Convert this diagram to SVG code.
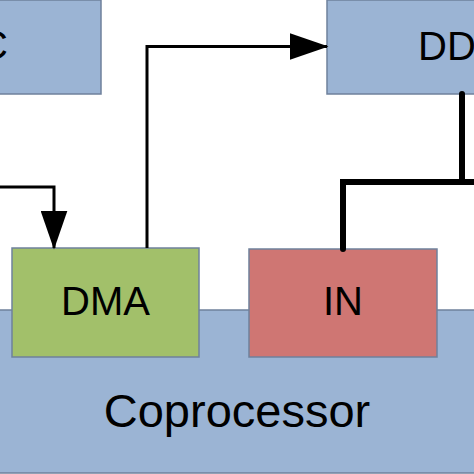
<svg xmlns="http://www.w3.org/2000/svg" width="474" height="474" viewBox="0 0 474 474">
<defs>
<style>
.box{stroke:#6f819c;stroke-width:1.5}
.blue{fill:#9bb4d4}
.green{fill:#a2c06a}
.red{fill:#cf7673}
.lbl{font-family:"Liberation Sans",Arial,sans-serif;fill:#000}
.thin{fill:none;stroke:#000;stroke-width:3}
.thick{fill:none;stroke:#000;stroke-width:6;stroke-linecap:round;stroke-linejoin:miter}
</style>
<marker id="arr" markerWidth="13" markerHeight="9" refX="12.5" refY="4.5" orient="auto" markerUnits="strokeWidth">
<path d="M0,0 L13,4.5 L0,9 Z" fill="#000"/>
</marker>
</defs>
<rect width="474" height="474" fill="#fff"/>
<g id="coprocessor">
<rect class="box blue" x="-5" y="310" width="484" height="163"/>
<text class="lbl" x="237" y="427" font-size="47" text-anchor="middle">Coprocessor</text>
</g>
<g id="ctrl">
<rect class="box blue" x="-5" y="0" width="106" height="94"/>
<text class="lbl" x="-21" y="59" font-size="40">C</text>
</g>
<g id="ddr">
<rect class="box blue" x="327" y="0" width="152" height="94"/>
<text class="lbl" x="418" y="60" font-size="40">DD</text>
</g>
<g id="dma">
<rect class="box green" x="12" y="248" width="187" height="109"/>
<text class="lbl" x="105.5" y="315" font-size="40" text-anchor="middle">DMA</text>
</g>
<g id="in">
<rect class="box red" x="249" y="249" width="188" height="108"/>
<text class="lbl" x="343" y="315" font-size="40" text-anchor="middle">IN</text>
</g>
<g id="connectors">
<path class="thin" d="M-5,187 H54 V248" marker-end="url(#arr)"/>
<path class="thin" d="M147,248 V46.5 H327" marker-end="url(#arr)"/>
<path class="thick" d="M462,94 V182"/>
<path class="thick" d="M343,249 V182 H480"/>
</g>
</svg>
